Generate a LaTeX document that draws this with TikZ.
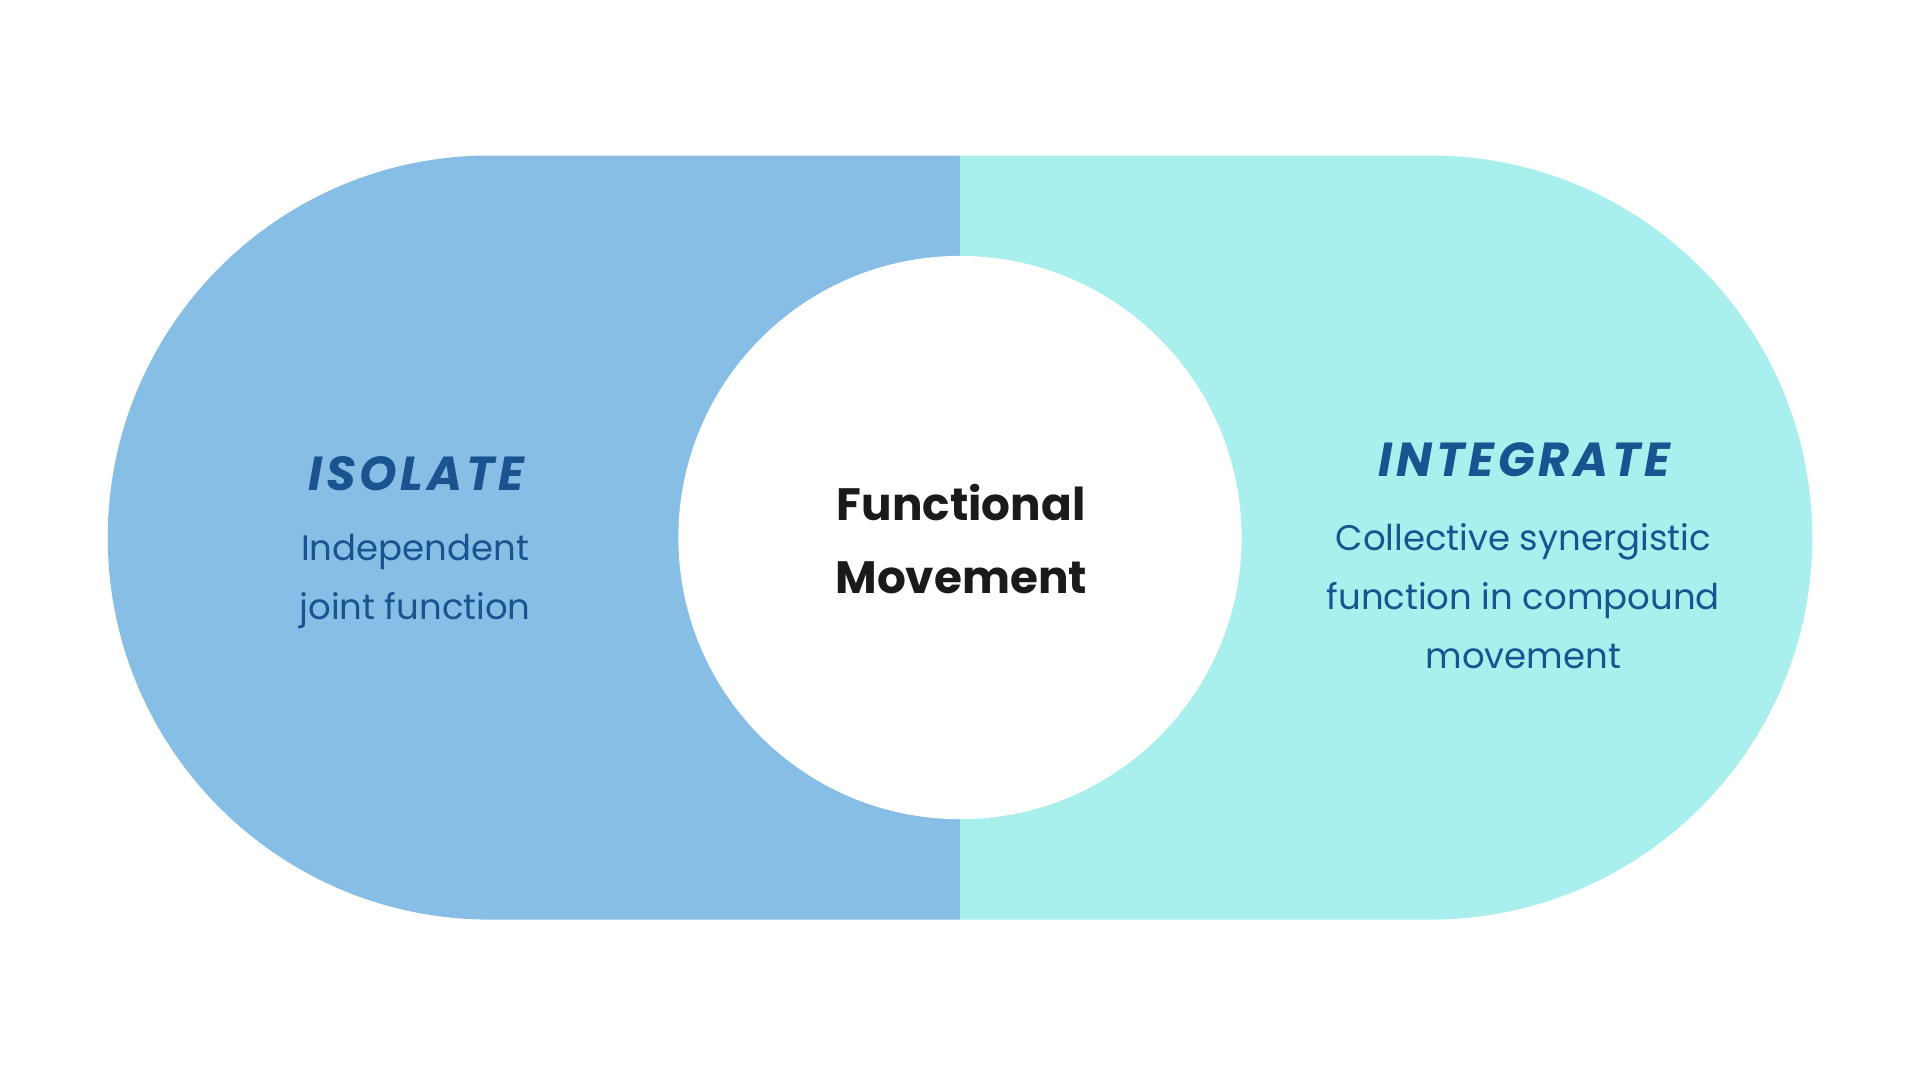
\documentclass[tikz,border=0pt]{standalone}
\usepackage{fontspec}
\setmainfont{Poppins}
\newfontfamily\headfont[LetterSpace=8]{Poppins}
\definecolor{lblue}{HTML}{87BEE5}
\definecolor{lcyan}{HTML}{A8EFED}
\definecolor{dblue}{HTML}{1A5490}
\definecolor{ink}{HTML}{1A1A1A}
\tikzset{head/.style={font=\headfont\fontsize{39}{44}\selectfont\bfseries\itshape, text=dblue},
body/.style={font=\fontsize{29}{48}\selectfont, text=dblue, align=center},
mid/.style={font=\fontsize{37}{60}\selectfont\bfseries, text=ink, align=center}}
\begin{document}
\begin{tikzpicture}[x=1pt,y=-1pt]
\useasboundingbox[fill=white] (0,0) rectangle (1568,882);
\fill[lblue] (784,127) -- (400,127) arc[start angle=-90,end angle=-270,radius=312] -- (784,751) -- cycle;
\fill[lcyan] (784,127) -- (1168,127) arc[start angle=270,end angle=450,radius=312] -- (784,751) -- cycle;
\fill[white] (784,439) circle[radius=230];
\node[head] (iso) at (340,387) {ISOLATE};
\node[body] (isob) at (339,475) {Independent\\joint function};
\node[mid] (fm) at (785,440) {Functional\\Movement};
\node[head] (int) at (1245,375) {INTEGRATE};
\node[body] (intb) at (1244,487) {Collective synergistic\\function in compound\\movement};
\end{tikzpicture}
\end{document}
